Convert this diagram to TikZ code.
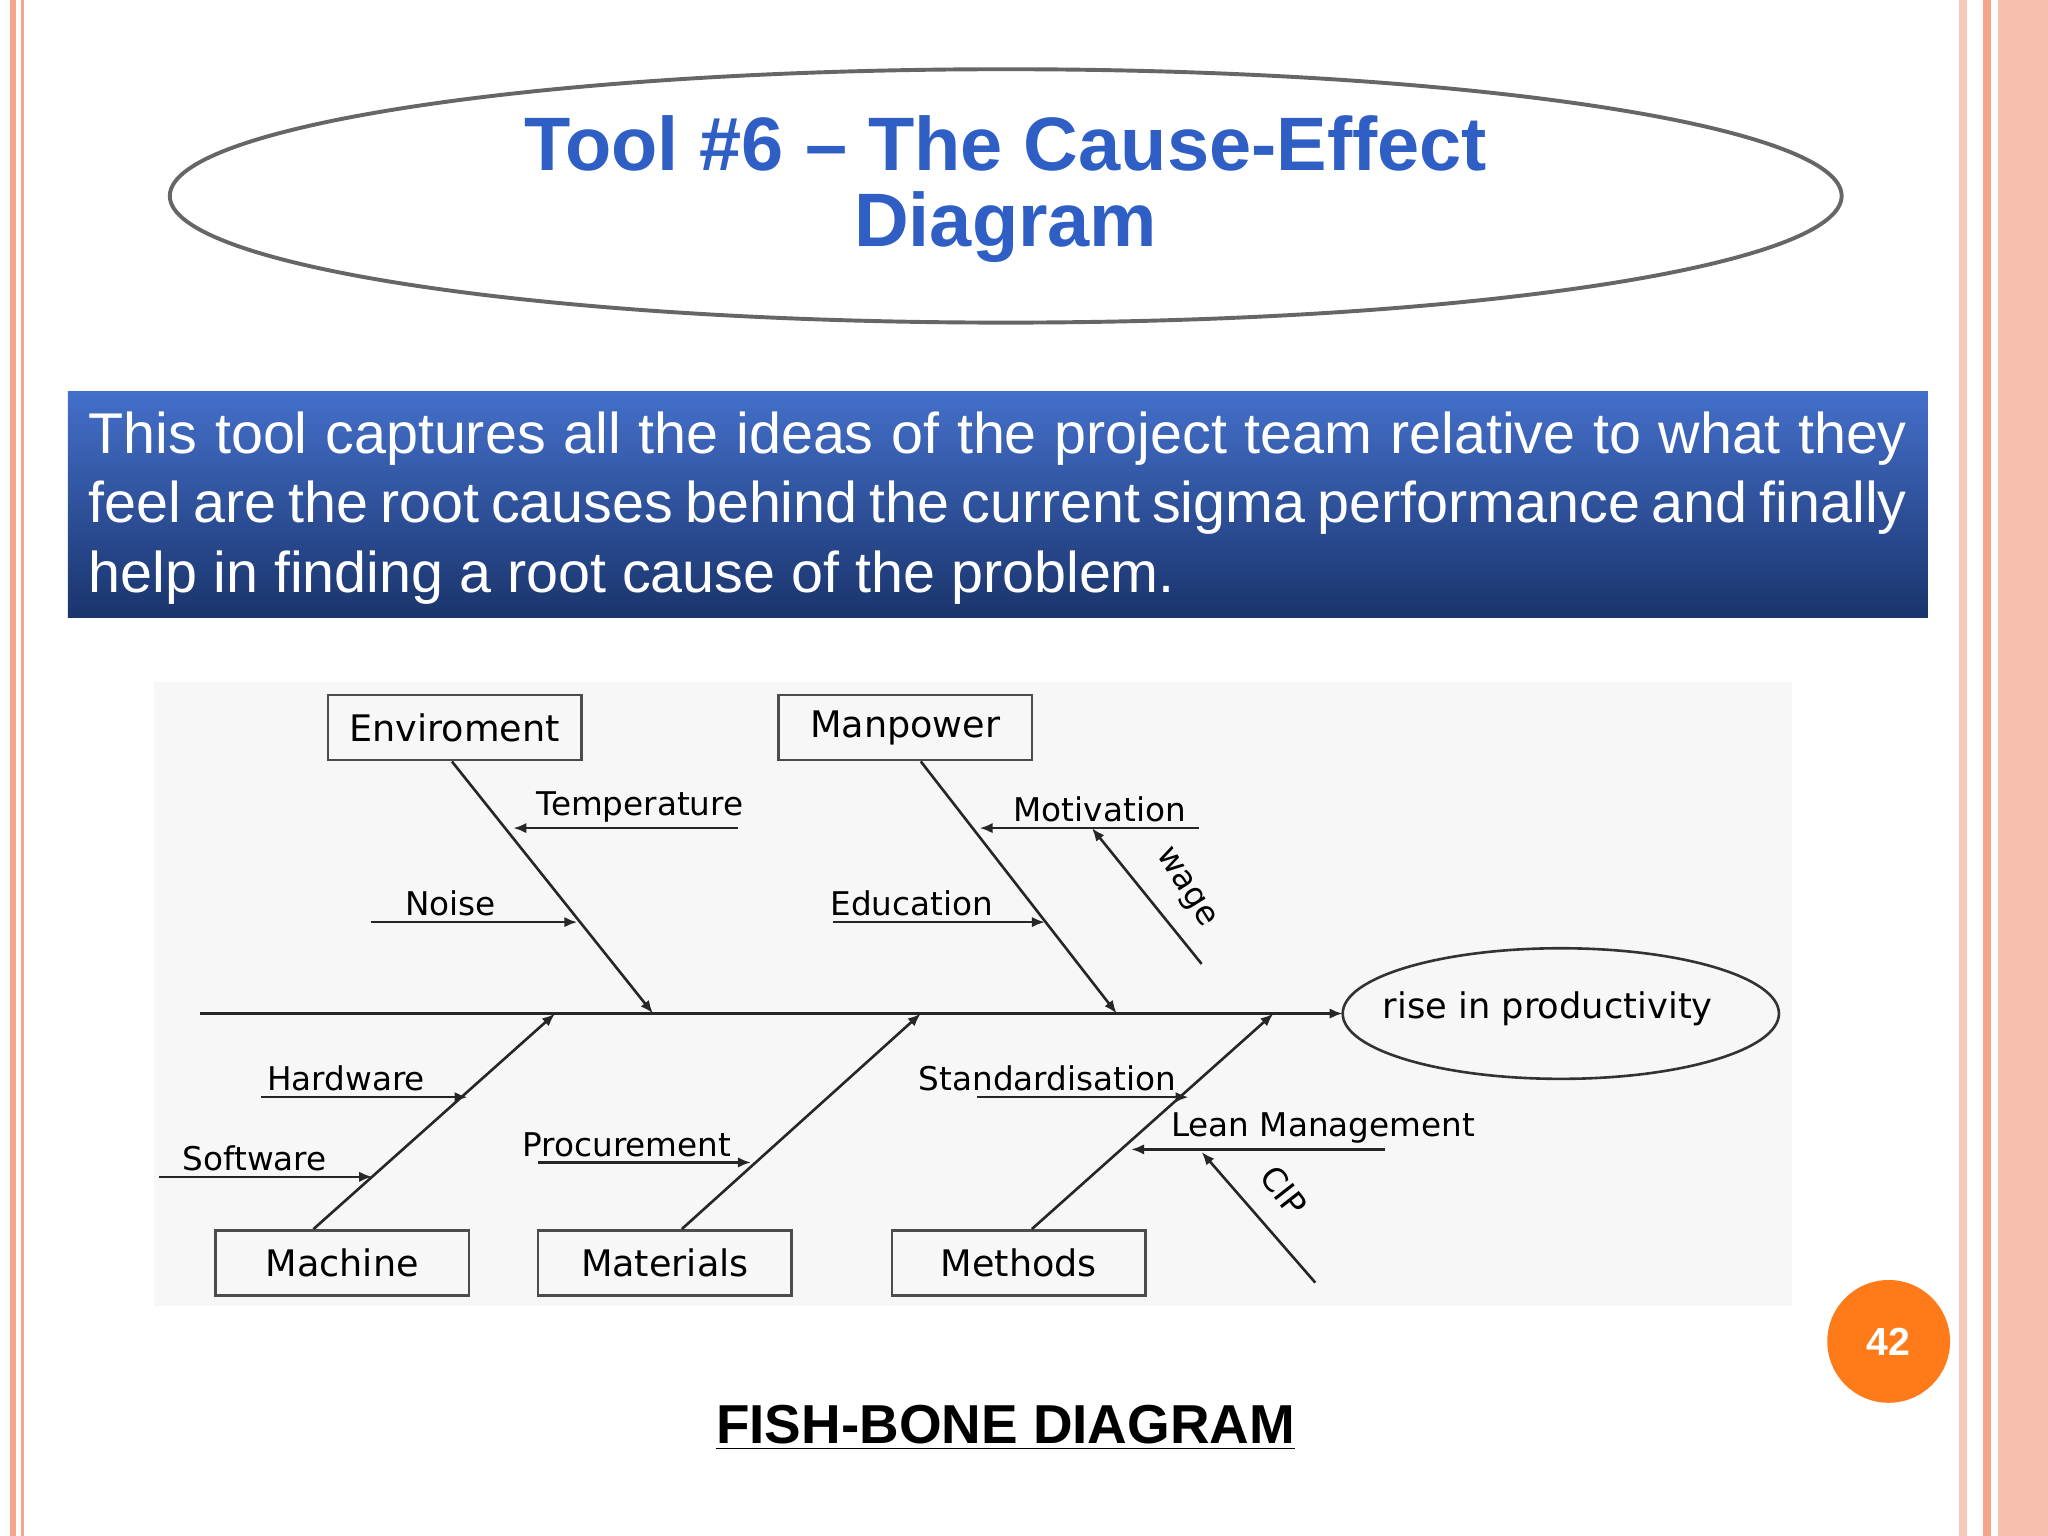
\documentclass[tikz,border=0pt]{standalone}
\usepackage{fontspec}
\setmainfont{Liberation Sans}
\newfontfamily\dv{DejaVu Sans}
\usetikzlibrary{arrows.meta,shapes.geometric}
\definecolor{ttl}{HTML}{2F5FC4}
\definecolor{pinkb}{HTML}{F4A58C}
\begin{document}
\begin{tikzpicture}[x=0.5pt,y=-0.5pt,
 box/.style={draw=black!70,line width=1pt,minimum width=97pt,minimum height=25pt,inner sep=0,font=\dv\fontsize{14}{16}\selectfont},
 lab/.style={font=\dv\fontsize{12.5}{14}\selectfont,inner sep=1pt},
 arr/.style={line width=1pt,black!85,-{Latex[length=5pt,width=4pt]}}]
\useasboundingbox (0,0) rectangle (1568,1176);
\fill[white] (0,0) rectangle (1568,1176);
\fill[pinkb] (8,0) rectangle (12,1176);
\fill[pinkb] (16,0) rectangle (18,1176);
\fill[pinkb!60] (1500,0) rectangle (1506,1176);
\fill[pinkb] (1518,0) rectangle (1524,1176);
\fill[pinkb!70] (1530,0) rectangle (1568,1176);
% title
\node[ellipse,draw=black!60,line width=1.5pt,minimum width=640pt,minimum height=97pt] (title) at (770,150) {};
\node[text=ttl,font=\bfseries\fontsize{29}{29}\selectfont,align=center] (tt) at (770,145) {Tool \#6 -- The Cause-Effect\\Diagram};
% blue box
\shade[top color=ttl!90!white,bottom color=ttl!55!black] (52,300) rectangle (1476,473);
\node[text=white,font=\fontsize{22}{26.5}\selectfont,text width=696pt,align=justify,inner sep=0] (desc) at (764,389) {This tool captures all the ideas of the project team relative to what they feel are the root causes behind the current sigma performance and finally help in finding a root cause of the problem.};
% diagram bg
\fill[black!3] (118,522) rectangle (1372,1000);
% effect
\draw[black!80,line width=1pt] (1195,776) ellipse [x radius=167,y radius=50];
\node[font=\dv\fontsize{13.5}{16}\selectfont,inner sep=0] (eff) at (1185,772) {rise in productivity};
\coordinate (s0) at (153,776);
\coordinate (s1) at (1028,776);
\draw[arr] (s0) -- (s1);
% boxes
\node[box] (env) at (348,557) {Enviroment};
\node[box] (man) at (693,557) {Manpower};
\node[box] (mac) at (262,967) {Machine};
\node[box] (mat) at (509,967) {Materials};
\node[box] (met) at (780,967) {Methods};
\coordinate (e1) at (500,776); \coordinate (e2) at (855,776);
\coordinate (e3) at (425,776); \coordinate (e4) at (705,776); \coordinate (e5) at (975,776);
\draw[arr] (env.south) ++(-2,0) -- (e1);
\draw[arr] (man.south) ++(12,0) -- (e2);
\draw[arr] (mac.north) ++(-22,0) -- (e3);
\draw[arr] (mat.north) ++(13,0) -- (e4);
\draw[arr] (met.north) ++(10,0) -- (e5);
% sub causes
\coordinate (t0) at (565,634); \coordinate (t1) at (393,634);
\draw[arr] (t0) -- (t1); \node[lab,anchor=south] (tl) at (490,632) {Temperature};
\coordinate (n0) at (284,706); \coordinate (n1) at (442,706);
\draw[arr] (n0) -- (n1); \node[lab,anchor=south] (nl) at (345,704) {Noise};
\coordinate (m0) at (918,634); \coordinate (m1) at (750,634);
\draw[arr] (m0) -- (m1); \node[lab,anchor=south] (ml) at (842,632) {Motivation};
\coordinate (d0) at (638,706); \coordinate (d1) at (800,706);
\draw[arr] (d0) -- (d1); \node[lab,anchor=south] (dl) at (698,704) {Education};
\coordinate (w0) at (920,738); \coordinate (w1) at (836,634);
\draw[arr] (w0) -- (w1); \node[lab,rotate=-58] (wl) at (907,680) {wage};
\coordinate (h0) at (200,840); \coordinate (h1) at (358,840);
\draw[arr] (h0) -- (h1); \node[lab,anchor=south] (hl) at (265,838) {Hardware};
\coordinate (f0) at (122,901); \coordinate (f1) at (285,901);
\draw[arr] (f0) -- (f1); \node[lab,anchor=south] (fl) at (195,899) {Software};
\coordinate (p0) at (412,890); \coordinate (p1) at (575,890);
\draw[arr] (p0) -- (p1); \node[lab,anchor=south] (pl) at (480,888) {Procurement};
\coordinate (q0) at (748,840); \coordinate (q1) at (910,840);
\draw[arr] (q0) -- (q1); \node[lab,anchor=south] (ql) at (802,838) {Standardisation};
\coordinate (l0) at (1060,880); \coordinate (l1) at (866,880);
\draw[arr] (l0) -- (l1); \node[lab,anchor=south] (ll) at (1013,878) {Lean Management};
\coordinate (c0) at (1007,982); \coordinate (c1) at (920,882);
\draw[arr] (c0) -- (c1); \node[lab,rotate=-52] (cl) at (983,912) {CIP};
% page number
\node[circle,fill=orange!85!red!90,minimum size=47pt,text=white,font=\bfseries\fontsize{15}{15}\selectfont] (pg) at (1446,1027) {42};
\node[font=\bfseries\fontsize{21}{21}\selectfont] (cap) at (770,1093) {\underline{FISH-BONE DIAGRAM}};
\end{tikzpicture}
\end{document}
